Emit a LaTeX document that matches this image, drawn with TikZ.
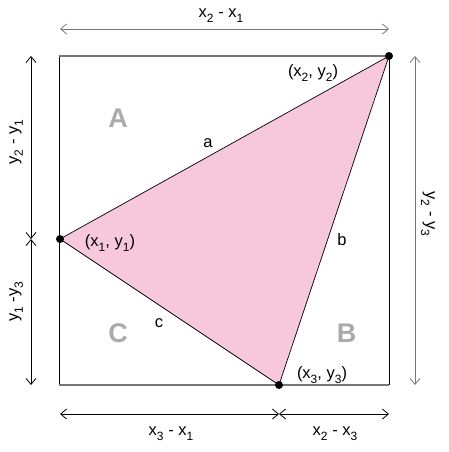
\documentclass[tikz,border=0pt]{standalone}
\usepackage{fontspec}
\setmainfont{Liberation Sans}
\usetikzlibrary{arrows.meta}
\definecolor{pinkfill}{HTML}{F7C8DC}
\definecolor{edgegray}{HTML}{777777}
\definecolor{lettergray}{HTML}{AAAAAA}
\tikzset{
  dim/.style={line width=0.8pt, {Straight Barb[length=6pt,width=10pt]}-{Straight Barb[length=6pt,width=10pt]}},
  lbl/.style={font=\fontsize{16.5}{18}\selectfont, inner sep=0pt, anchor=base},
  big/.style={font=\fontsize{27}{29}\selectfont\bfseries, text=lettergray, inner sep=0pt, anchor=base},
  pt/.style={circle, fill=black, inner sep=0pt, minimum size=8pt},
}
\newcommand{\sbs}[1]{\raisebox{-5pt}{\fontsize{12}{12}\selectfont #1}}
\begin{document}
\begin{tikzpicture}[x=1pt,y=-1pt]
\useasboundingbox (0,0) rectangle (448,452);
% corners of the box
\coordinate (TL) at (59,56);
\coordinate (TR) at (389,56);
\coordinate (BL) at (59,385);
\coordinate (BR) at (389,385);
% triangle vertices
\coordinate (P1) at (60,239);
\coordinate (P2) at (389,56);
\coordinate (P3) at (279,385);
% triangle
\fill[pinkfill] (P1) -- (P2) -- (P3) -- cycle;
% box
\draw[line width=0.8pt] (TL) -- (BL);
\draw[line width=0.8pt] (TR) -- (BR);
\draw[edgegray, line width=1.2pt] (TL) -- (TR);
\draw[edgegray, line width=1.2pt] (BL) -- (BR);
% triangle edges
\draw[line width=0.7pt] (P1) -- (P2) -- (P3) -- cycle;
% vertex dots
\node[pt] (v1) at (P1) {};
\node[pt] (v2) at (P2) {};
\node[pt] (v3) at (P3) {};
% vertex labels
\node[lbl] (l1) at (110,246) {(x\sbs{1}, y\sbs{1})};
\node[lbl] (l2) at (313,77) {(x\sbs{2}, y\sbs{2})};
\node[lbl] (l3) at (322,378) {(x\sbs{3}, y\sbs{3})};
% side labels
\node[lbl] (sa) at (208,147) {a};
\node[lbl] (sb) at (342,245) {b};
\node[lbl] (sc) at (159,327) {c};
% region letters
\node[big] (A) at (118,127) {A};
\node[big] (B) at (346.5,342) {B};
\node[big] (C) at (118,342) {C};
% dimension arrows
\coordinate (t1) at (60,29);
\coordinate (t2) at (389,29);
\draw[dim, edgegray] (t1) -- (t2);
\node[lbl] (dt) at (221,18) {x\sbs{2} - x\sbs{1}};
\coordinate (l1a) at (31,56);
\coordinate (l1b) at (31,239);
\coordinate (l2b) at (31,385);
\draw[dim] (l1a) -- (l1b);
\draw[dim] (l1b) -- (l2b);
\node[lbl, rotate=90] (dl1) at (18,142) {y\sbs{2} - y\sbs{1}};
\node[lbl, rotate=90] (dl2) at (18,302) {y\sbs{1} -y\sbs{3}};
\coordinate (r1) at (415,56);
\coordinate (r2) at (415,385);
\draw[dim, edgegray] (r1) -- (r2);
\node[lbl, rotate=-90] (dr) at (426,214) {y\sbs{2} - y\sbs{3}};
\coordinate (b1) at (60,414);
\coordinate (b2) at (279,414);
\coordinate (b3) at (389,414);
\draw[dim] (b1) -- (b2);
\draw[dim] (b2) -- (b3);
\node[lbl] (db1) at (171,435) {x\sbs{3} - x\sbs{1}};
\node[lbl] (db2) at (335,435) {x\sbs{2} - x\sbs{3}};
\end{tikzpicture}
\end{document}
